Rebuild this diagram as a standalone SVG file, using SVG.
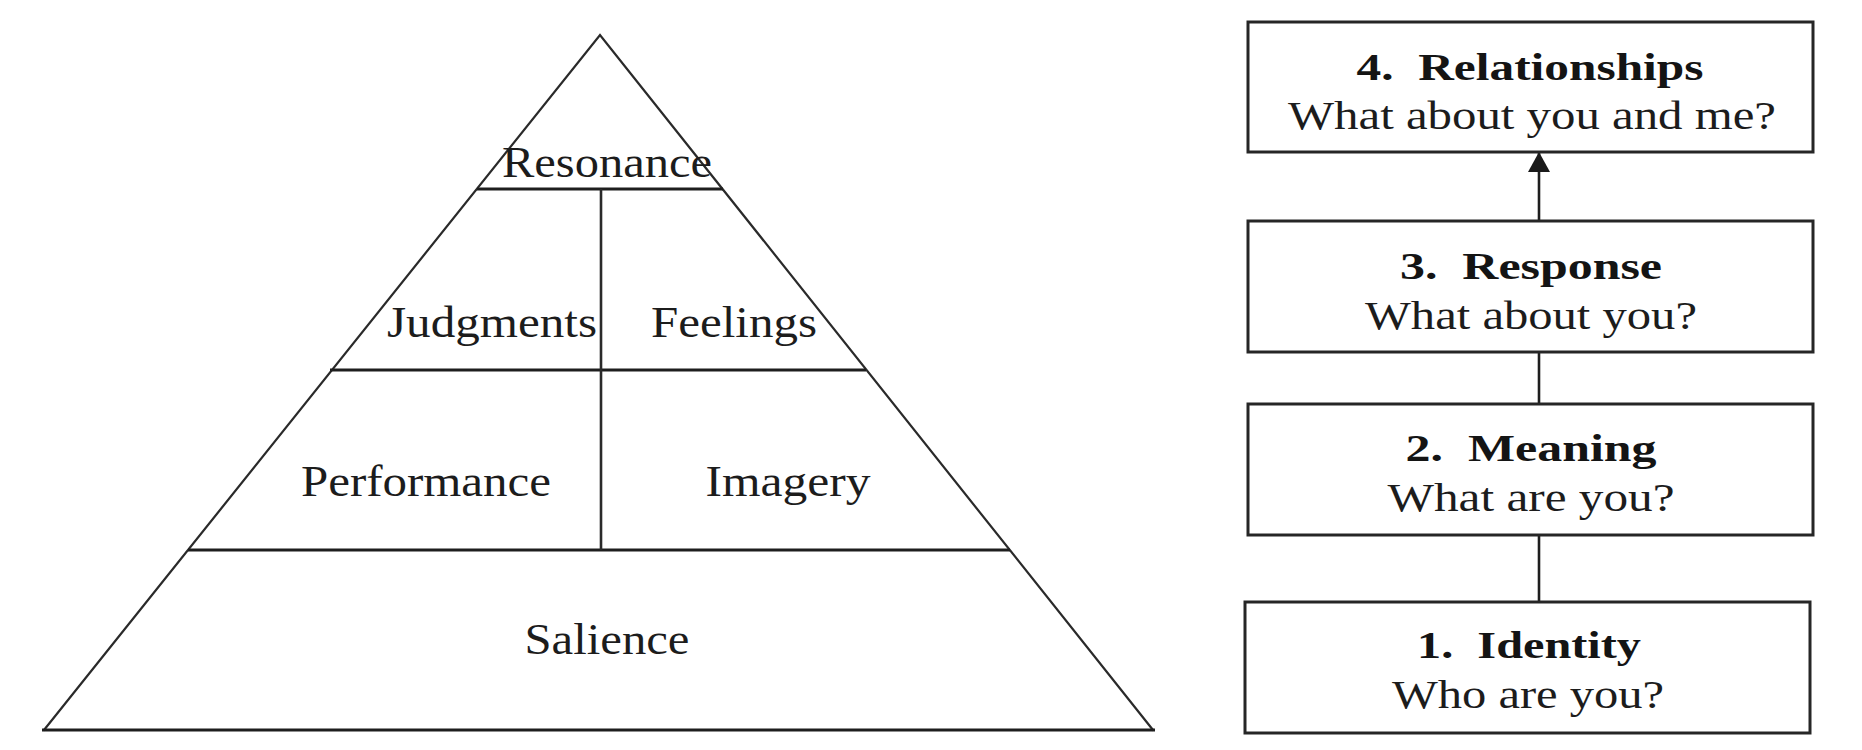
<svg xmlns="http://www.w3.org/2000/svg" width="1862" height="750" viewBox="0 0 1862 750">
<style>
.bg{fill:#ffffff}
.edge{stroke:#2a2a2a;stroke-width:2.2;fill:none;stroke-linecap:round}
.hline{stroke:#1e1e1e;stroke-width:3.2;fill:none}
.vline{stroke:#2a2a2a;stroke-width:2.6;fill:none}
.pt{font-family:"Liberation Serif","Times New Roman",serif;font-size:45px;fill:#1c1c1c}
.box{fill:#ffffff;stroke:#262626;stroke-width:3}
.bt{font-family:"Liberation Serif","Times New Roman",serif;font-size:38px;font-weight:bold;fill:#141414}
.rt{font-family:"Liberation Serif","Times New Roman",serif;font-size:40px;fill:#1c1c1c}
.conn{stroke:#1e1e1e;stroke-width:2.6;fill:none}
</style>
<defs>
<marker id="arr" markerUnits="userSpaceOnUse" markerWidth="24" markerHeight="22" refX="20" refY="11" orient="auto">
<path d="M0,0 L20,11 L0,22 Z" fill="#1a1a1a"/>
</marker>
</defs>
<rect class="bg" x="0" y="0" width="1862" height="750"/>

<g id="pyramid">
<path class="edge" d="M44,730 L600,35 L1153,730"/>
<line class="hline" x1="42" y1="730" x2="1155" y2="730"/>
<line class="hline" x1="477" y1="189" x2="723" y2="189"/>
<line class="hline" x1="330" y1="370" x2="866" y2="370"/>
<line class="hline" x1="188" y1="550" x2="1010" y2="550"/>
<line class="vline" x1="601" y1="189" x2="601" y2="550"/>
</g>
<g id="resonance"><text class="pt" x="607" y="177" text-anchor="middle" textLength="210" lengthAdjust="spacingAndGlyphs">Resonance</text></g>
<g id="judgments"><text class="pt" x="492" y="337" text-anchor="middle" textLength="210" lengthAdjust="spacingAndGlyphs">Judgments</text></g>
<g id="feelings"><text class="pt" x="734" y="337" text-anchor="middle" textLength="166" lengthAdjust="spacingAndGlyphs">Feelings</text></g>
<g id="performance"><text class="pt" x="426" y="496" text-anchor="middle" textLength="250" lengthAdjust="spacingAndGlyphs">Performance</text></g>
<g id="imagery"><text class="pt" x="788" y="496" text-anchor="middle" textLength="165" lengthAdjust="spacingAndGlyphs">Imagery</text></g>
<g id="salience"><text class="pt" x="607" y="654" text-anchor="middle" textLength="165" lengthAdjust="spacingAndGlyphs">Salience</text></g>

<g id="connectors">
<line class="conn" x1="1539" y1="602" x2="1539" y2="535"/>
<line class="conn" x1="1539" y1="404" x2="1539" y2="352"/>
<line class="conn" x1="1539" y1="221" x2="1539" y2="152" marker-end="url(#arr)"/>
</g>

<g id="box4">
<rect class="box" x="1248" y="22" width="565" height="130"/>
<text class="bt" x="1530" y="80" text-anchor="middle" textLength="347" lengthAdjust="spacingAndGlyphs" xml:space="preserve">4.  Relationships</text>
<text class="rt" x="1532" y="129" text-anchor="middle" textLength="488" lengthAdjust="spacingAndGlyphs">What about you and me?</text>
</g>
<g id="box3">
<rect class="box" x="1248" y="221" width="565" height="131"/>
<text class="bt" x="1531" y="279" text-anchor="middle" textLength="262" lengthAdjust="spacingAndGlyphs" xml:space="preserve">3.  Response</text>
<text class="rt" x="1531" y="329" text-anchor="middle" textLength="332" lengthAdjust="spacingAndGlyphs">What about you?</text>
</g>
<g id="box2">
<rect class="box" x="1248" y="404" width="565" height="131"/>
<text class="bt" x="1531" y="461" text-anchor="middle" textLength="251" lengthAdjust="spacingAndGlyphs" xml:space="preserve">2.  Meaning</text>
<text class="rt" x="1531" y="511" text-anchor="middle" textLength="287" lengthAdjust="spacingAndGlyphs">What are you?</text>
</g>
<g id="box1">
<rect class="box" x="1245" y="602" width="565" height="131"/>
<text class="bt" x="1529" y="658" text-anchor="middle" textLength="224" lengthAdjust="spacingAndGlyphs" xml:space="preserve">1.  Identity</text>
<text class="rt" x="1528" y="708" text-anchor="middle" textLength="272" lengthAdjust="spacingAndGlyphs">Who are you?</text>
</g>
</svg>
